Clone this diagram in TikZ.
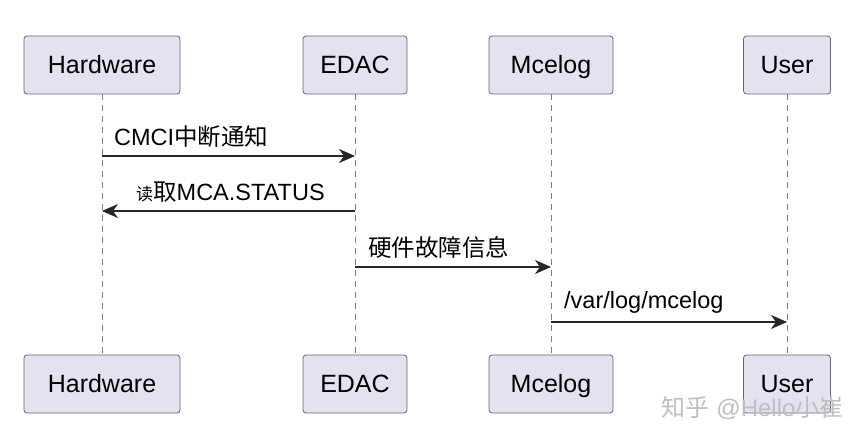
\documentclass[tikz,border=0pt]{standalone}
\usepackage{fontspec}
\setmainfont{Liberation Sans}
\newfontfamily\cjk{Noto Sans CJK SC}
\usetikzlibrary{arrows.meta}
\definecolor{pfill}{HTML}{E2E2F0}
\begin{document}
\begin{tikzpicture}[x=1pt,y=-1pt,
  part/.style={draw=black!60,fill=pfill,rounded corners=3pt,line width=0.8pt,minimum height=58pt,font=\fontsize{25}{27}\selectfont,inner xsep=0pt,text height=20pt,text depth=3pt},
  life/.style={draw=black!50,dashed,dash pattern=on 6pt off 5pt,line width=0.7pt},
  msg/.style={draw=black!85,line width=1.2pt,-{Stealth[length=16pt,width=14pt,inset=5pt]}},
  lbl/.style={font=\fontsize{23.5}{25}\selectfont,anchor=south west,inner sep=2pt}]
\fill[white] (0,0) rectangle (863,444);
\node[part,minimum width=156pt] (h1) at (102,65) {Hardware};
\node[part,minimum width=104pt] (e1) at (355,65) {EDAC};
\node[part,minimum width=124pt] (m1) at (551,65) {Mcelog};
\node[part,minimum width=87pt] (u1) at (787,65) {User};
\node[part,minimum width=156pt] (h2) at (102,384) {Hardware};
\node[part,minimum width=104pt] (e2) at (355,384) {EDAC};
\node[part,minimum width=124pt] (m2) at (551,384) {Mcelog};
\node[part,minimum width=87pt] (u2) at (787,384) {User};
\foreach \a/\b in {h1/h2,e1/e2,m1/m2,u1/u2} \draw[life] (\a.south) -- (\b.north);
\coordinate (a1) at (102,156); \coordinate (a2) at (355,156);
\coordinate (b1) at (355,211); \coordinate (b2) at (102,211);
\coordinate (c1) at (355,267); \coordinate (c2) at (551,267);
\coordinate (d1) at (551,322); \coordinate (d2) at (787,322);
\draw[msg] (a1) -- (a2);
\draw[msg] (b1) -- (b2);
\draw[msg] (c1) -- (c2);
\draw[msg] (d1) -- (d2);
\node[lbl] (la) at (112,150) {CMCI{\cjk 中断通知}};
\node[lbl] (lb) at (134,205) {{\cjk\fontsize{17}{18}\selectfont 读}{\cjk 取}MCA.STATUS};
\node[lbl] (lc) at (366,261) {\cjk 硬件故障信息};
\node[lbl] (ld) at (562,316) {/var/log/mcelog};
\node[font=\fontsize{24}{26}\selectfont,text=black!25,anchor=east] (wm) at (847,408) {{\cjk 知乎} @Hello{\cjk 小崔}};
\end{tikzpicture}
\end{document}
